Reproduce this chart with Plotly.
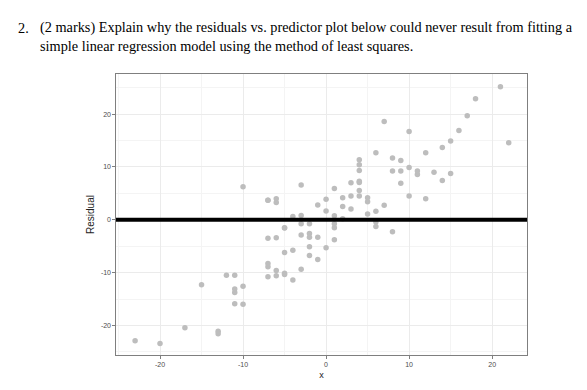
import plotly.graph_objects as go

x_vals = [-23, -20, -17, -15, -13, -13, -12, -11, -11, -11, -11, -10, -10, -10,
          -7, -7, -7, -7, -7, -7, -6, -6, -6, -6, -6, -5, -5, -5, -5, -5,
          -4, -4, -4, -3, -3, -3, -3, -3, -2, -2, -2, -2, -2, -1, -1, -1,
          0, 0, 0, 1, 1, 1, 1, 1, 2, 2, 2, 3, 3, 3, 4, 4, 4, 4, 4, 4,
          4, 5, 5, 5, 6, 6, 6, 6, 7, 7, 8, 8, 8, 9, 9, 9, 10, 10, 10,
          11, 11, 12, 12, 13, 14, 14, 15, 15, 16, 17, 18, 21, 22, 22]
y_vals = [-22.9, -23.4, -20.45, -12.3, -21.1, -21.6, -10.5, -10.5, -13.1, -13.75, -15.9, 6.25, -12.6, -16.0,
          3.7, -3.5, -8.3, -8.9, -10.8, 3.7, 4.0, 3.25, -3.4, -9.6, -10.6, -1.55, -6.2, -10.1, -10.35, -1.5,
          0.6, -5.75, -11.4, 6.6, 0.8, -0.75, -2.9, -9.35, -0.75, -2.6, -3.3, -5.1, -6.75, 2.8, -3.3, -7.5,
          3.9, 1.65, -5.3, 5.9, 0.75, -0.75, -1.5, -3.8, 4.15, 2.5, 0.2, 7.0, 4.5, 2.06, 11.35, 10.4, 9.35, 7.3, 7.05,
          4.5, 5.55, 3.4, 1.1, 4.15, 1.6, -1.25, -0.4, 12.7, 2.75, 18.6, 9.25, -2.25, 11.7, 9.25, 6.9, 11.2, 9.9, 4.5,
          16.7, 8.55, 9.25, 4.0, 12.7, 9.0, 7.45, 13.7, 8.75, 14.9, 16.9, 19.7, 22.9, 25.2, 14.6]

x_ticks = [-20, -10, 0, 10, 20]
y_ticks = [-20, -10, 0, 10, 20]

question_num = "2."
question_text = ("(2 marks) Explain why the residuals vs. predictor plot below could never result from fitting a<br>"
                 "simple linear regression model using the method of least squares.")

fig = go.Figure()
fig.add_trace(go.Scatter(
    x=x_vals, y=y_vals, mode="markers",
    marker=dict(color="#bdbdbd", size=5.5, line=dict(width=0)),
    hoverinfo="x+y", showlegend=False,
))

fig.add_shape(type="line", xref="paper", yref="y", x0=0, x1=1, y0=0, y1=0,
              line=dict(color="black", width=4))

grid = "#ebebeb"
fig.update_xaxes(
    range=[-25.3, 24.2], tickvals=x_ticks, ticktext=[str(v) for v in x_ticks],
    showgrid=True, gridcolor=grid, gridwidth=1,
    minor=dict(dtick=5, tick0=0, showgrid=True, gridcolor="#f4f4f4", gridwidth=0.8),
    zeroline=False, showline=True, linecolor="#7f7f7f", linewidth=1.2, mirror=True,
    ticks="outside", ticklen=2.5, tickcolor="#7f7f7f",
    tickfont=dict(family="Liberation Sans, Arial", size=7, color="#4d4d4d"),
    title=dict(text="x", font=dict(family="Liberation Sans, Arial", size=9, color="#222"), standoff=4),
)
fig.update_yaxes(
    range=[-25.6, 27.6], tickvals=y_ticks, ticktext=[str(v) for v in y_ticks],
    showgrid=True, gridcolor=grid, gridwidth=1,
    minor=dict(dtick=5, tick0=0, showgrid=True, gridcolor="#f4f4f4", gridwidth=0.8),
    zeroline=False, showline=True, linecolor="#7f7f7f", linewidth=1.2, mirror=True,
    ticks="outside", ticklen=2.5, tickcolor="#7f7f7f",
    tickfont=dict(family="Liberation Sans, Arial", size=7, color="#4d4d4d"),
    title=dict(text="Residual", font=dict(family="Liberation Sans, Arial", size=10, color="#222"), standoff=4),
)

fig.add_annotation(text=question_num, xref="paper", yref="paper", x=-0.243, y=1.0,
                   xanchor="left", yanchor="bottom", showarrow=False, yshift=36,
                   font=dict(family="Liberation Serif, Times New Roman", size=14.3, color="black"))
fig.add_annotation(text=question_text, xref="paper", yref="paper", x=-0.19, y=1.0,
                   xanchor="left", yanchor="bottom", showarrow=False, yshift=18, align="left",
                   font=dict(family="Liberation Serif, Times New Roman", size=14.3, color="black"))

fig.update_layout(
    width=587, height=390,
    margin=dict(l=116, r=60, t=74, b=33),
    paper_bgcolor="white", plot_bgcolor="white",
)

fig.write_html("out.html", config={"displayModeBar": False},
               post_script="document.body.style.margin='0px';")
